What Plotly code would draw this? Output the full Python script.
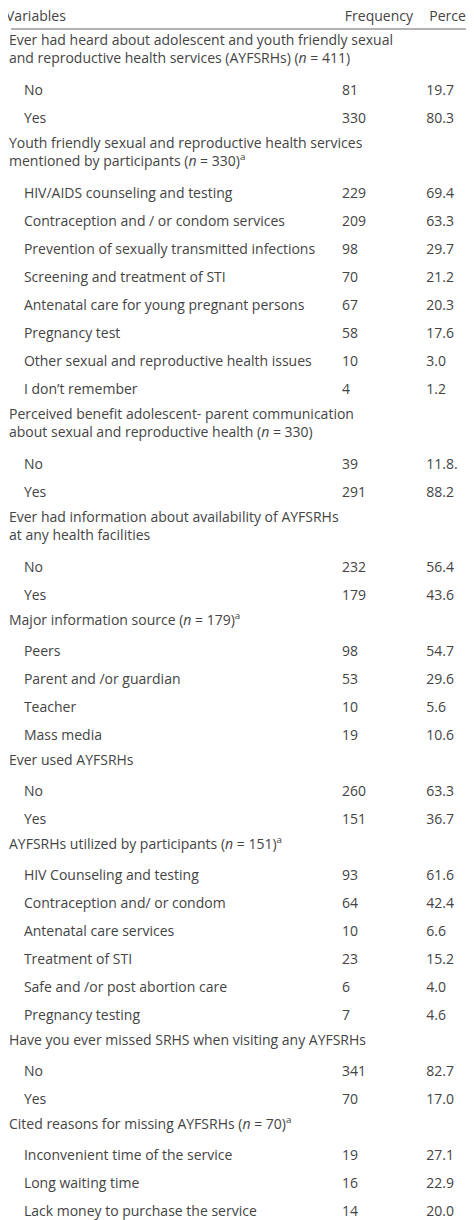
import plotly.graph_objects as go

sections = [
    ("Ever had heard about adolescent and youth friendly sexual<br>and reproductive health services (AYFSRHs) (<i>n</i> = 411)",
     ["No", "Yes"], [81, 330], ["19.7", "80.3"]),
    ("Youth friendly sexual and reproductive health services<br>mentioned by participants (<i>n</i> = 330)<sup>a</sup>",
     ["HIV/AIDS counseling and testing", "Contraception and / or condom services",
      "Prevention of sexually transmitted infections", "Screening and treatment of STI",
      "Antenatal care for young pregnant persons", "Pregnancy test",
      "Other sexual and reproductive health issues", "I don’t remember"],
     [229, 209, 98, 70, 67, 58, 10, 4], ["69.4", "63.3", "29.7", "21.2", "20.3", "17.6", "3.0", "1.2"]),
    ("Perceived benefit adolescent- parent communication<br>about sexual and reproductive health (<i>n</i> = 330)",
     ["No", "Yes"], [39, 291], ["11.8.", "88.2"]),
    ("Ever had information about availability of AYFSRHs<br>at any health facilities",
     ["No", "Yes"], [232, 179], ["56.4", "43.6"]),
    ("Major information source (<i>n</i> = 179)<sup>a</sup>",
     ["Peers", "Parent and /or guardian", "Teacher", "Mass media"],
     [98, 53, 10, 19], ["54.7", "29.6", "5.6", "10.6"]),
    ("Ever used AYFSRHs", ["No", "Yes"], [260, 151], ["63.3", "36.7"]),
    ("AYFSRHs utilized by participants (<i>n</i> = 151)<sup>a</sup>",
     ["HIV Counseling and testing", "Contraception and/ or condom", "Antenatal care services",
      "Treatment of STI", "Safe and /or post abortion care", "Pregnancy testing"],
     [93, 64, 10, 23, 6, 7], ["61.6", "42.4", "6.6", "15.2", "4.0", "4.6"]),
    ("Have you ever missed SRHS when visiting any AYFSRHs", ["No", "Yes"], [341, 70], ["82.7", "17.0"]),
    ("Cited reasons for missing AYFSRHs (<i>n</i> = 70)<sup>a</sup>",
     ["Inconvenient time of the service", "Long waiting time", "Lack money to purchase the service"],
     [19, 16, 14], ["27.1", "22.9", "20.0"]),
]
headers = ["Variables", "Frequency", "Percent"]

hx, hy = [], []
lab_y, lab_t, fr_t, pc_t = [], [], [], []
y = 8
for i, (head, items, fr, pc) in enumerate(sections):
    nlines = head.count("<br>") + 1
    y += 25
    hy.append(y + (nlines - 1) * 9.5)
    hx.append(head)
    y += (nlines - 1) * 19
    for j, (it, f, p) in enumerate(zip(items, fr, pc)):
        y += 31 if j == 0 else 28
        lab_y.append(y); lab_t.append(it); fr_t.append(str(f)); pc_t.append(p)

font = dict(family="Open Sans", size=14, color="#444444")
fig = go.Figure()
fig.add_trace(go.Scatter(x=[-2] * len(hx), y=hy, text=hx, mode="text",
                         textposition="middle right", textfont=font, hoverinfo="skip"))
fig.add_trace(go.Scatter(x=[13] * len(lab_t), y=lab_y, text=lab_t, mode="text",
                         textposition="middle right", textfont=font, hoverinfo="skip"))
fig.add_trace(go.Scatter(x=[333] * len(fr_t), y=lab_y, text=fr_t, mode="text",
                         textposition="middle right", textfont=font, hoverinfo="skip"))
fig.add_trace(go.Scatter(x=[418] * len(pc_t), y=lab_y, text=pc_t, mode="text",
                         textposition="middle right", textfont=font, hoverinfo="skip"))
fig.add_trace(go.Scatter(x=[-5, 336, 421], y=[9, 9, 9], text=headers, mode="text",
                         textposition="middle right", textfont=font, hoverinfo="skip"))
fig.add_shape(type="line", x0=0, x1=474, y0=21, y1=21, line=dict(color="#999", width=1.5))
fig.update_layout(width=474, height=1220, margin=dict(l=0, r=0, t=0, b=0),
                  plot_bgcolor="white", paper_bgcolor="white", showlegend=False,
                  xaxis=dict(range=[-3, 474], visible=False, fixedrange=True),
                  yaxis=dict(range=[1220, 0], visible=False, fixedrange=True))
fig.write_html("out.html")
